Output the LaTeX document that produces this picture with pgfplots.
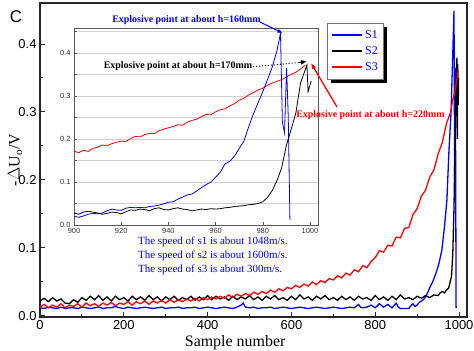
\documentclass[border=0pt]{standalone}
\usepackage{pgfplots}
\pgfplotsset{compat=1.18}
\usepackage{fontspec}
\setmainfont{Liberation Serif}
\setsansfont{Liberation Sans}
\usetikzlibrary{arrows.meta}
\begin{document}
\begin{tikzpicture}
\useasboundingbox (-40bp,-34bp) rectangle (434bp,317bp);
\begin{axis}[
  scale only axis, width=427bp, height=314bp,
  xmin=0, xmax=1019, ymin=-0.0015, ymax=0.4603,
  axis line style={line width=1.2pt, black!85},
  tick align=inside, xtick pos=bottom, ytick pos=left,
  xtick={0,200,...,1000}, minor xtick={100,300,...,900},
  ytick={0,0.1,0.2,0.3,0.4}, minor ytick={0.05,0.15,0.25,0.35},
  major tick length=5bp, minor tick length=3bp,
  every tick/.style={line width=1pt, black!85},
  /pgf/number format/assume math mode=true,
  tick label style={font=\sffamily\fontsize{13}{13}\selectfont},
  yticklabel style={/pgf/number format/fixed, /pgf/number format/precision=1, /pgf/number format/fixed zerofill},
  xticklabel style={/pgf/number format/set thousands separator={}},
  xlabel={Sample number},
  xlabel style={font=\fontsize{16}{16}\selectfont, at={(axis description cs:0.457,-0.083)}, anchor=center},
  ylabel={-$\Delta$U$_{\mathrm{o}}$/V},
  ylabel style={font=\fontsize{16}{16}\selectfont, at={(axis description cs:-0.0585,0.5)}, anchor=center, rotate=0},
]
\addplot[blue, line width=1.3pt] coordinates {
(0,.012)(10,.011)(20,.013)(30,.012)(40,.011)(50,.013)(60,.011)(70,.012)(80,.012)(90,.011)
(100,.013)(110,.012)(120,.011)(130,.012)(140,.013)(150,.011)(160,.012)(170,.012)(180,.014)(190,.012)
(200,.011)(210,.013)(220,.012)(230,.011)(240,.012)(250,.013)(260,.012)(270,.011)(280,.012)(290,.013)
(300,.011)(310,.012)(320,.012)(330,.013)(340,.011)(350,.012)(360,.012)(370,.013)(380,.011)(390,.012)
(400,.013)(410,.012)(420,.011)(430,.012)(440,.013)(450,.012)(460,.011)(470,.013)(480,.016)(485,.019)
(490,.013)(500,.012)(510,.013)(520,.011)(530,.012)(540,.012)(550,.013)(560,.011)(570,.012)(580,.013)
(590,.012)(600,.011)(610,.012)(620,.013)(630,.012)(640,.011)(650,.012)(660,.013)(670,.012)(680,.011)
(690,.012)(700,.013)(710,.012)(720,.011)(730,.012)(740,.013)(750,.012)(760,.017)(765,.013)(770,.012)
(780,.013)(790,.016)(800,.012)(810,.018)(820,.013)(830,.017)(840,.012)(850,.019)(855,.013)(860,.011)
(870,.011)(880,.011)(885,.015)(890,.018)(895,.014)(900,.016)(905,.020)(910,.022)(915,.024)(920,.028)
(925,.034)(931,.043)(937,.050)(945,.063)(952,.077)(959,.097)(965,.130)(971,.170)(976,.244)(981,.300)
(988,.449)(989.5,.200)(991,.365)(991.5,.300)(993,.012)
};
\addplot[black, line width=1.3pt] coordinates {
(0,.022)(10,.026)(20,.021)(30,.027)(40,.022)(50,.025)(60,.019)(70,.018)(80,.024)(90,.020)
(100,.027)(110,.023)(120,.029)(130,.024)(140,.030)(150,.023)(160,.028)(170,.022)(180,.029)(190,.024)
(200,.027)(210,.022)(220,.029)(230,.024)(240,.028)(250,.023)(260,.030)(270,.024)(280,.028)(290,.022)
(300,.028)(310,.024)(320,.029)(330,.023)(340,.027)(350,.024)(360,.029)(370,.023)(380,.028)(390,.024)
(400,.030)(410,.024)(420,.029)(430,.025)(440,.028)(450,.023)(460,.029)(470,.024)(480,.028)(490,.025)
(500,.030)(510,.024)(520,.028)(530,.023)(540,.029)(550,.025)(560,.030)(570,.024)(580,.027)(590,.023)
(600,.029)(610,.024)(620,.031)(630,.025)(640,.028)(650,.023)(660,.029)(670,.025)(680,.030)(690,.024)
(700,.027)(710,.023)(720,.029)(730,.024)(740,.028)(750,.023)(760,.029)(770,.025)(780,.027)(790,.023)
(800,.030)(810,.024)(820,.028)(830,.023)(840,.029)(850,.024)(860,.031)(870,.025)(880,.027)(890,.024)
(900,.029)(910,.026)(920,.030)(930,.027)(940,.031)(950,.030)(955,.034)(960,.036)(965,.034)(970,.038)
(975,.041)(978,.048)(982,.058)(985,.090)(988,.160)(990,.240)(992,.300)(994,.360)(995,.380)(996,.260)
(997,.370)(998,.310)(999,.350)
};
\addplot[red, line width=1.3pt] coordinates {
(0,.013)(10,.017)(20,.012)(30,.016)(40,.013)(50,.018)(60,.012)(70,.016)(80,.014)(90,.018)
(100,.013)(110,.019)(120,.015)(130,.018)(140,.014)(150,.019)(160,.016)(170,.020)(180,.015)(190,.019)
(200,.017)(210,.021)(220,.016)(230,.021)(240,.018)(250,.022)(260,.017)(270,.022)(280,.019)(290,.023)
(300,.019)(310,.024)(320,.020)(330,.024)(340,.021)(350,.025)(360,.022)(370,.026)(380,.022)(390,.027)
(400,.024)(410,.028)(420,.025)(430,.029)(440,.026)(450,.031)(460,.027)(470,.032)(480,.029)(490,.033)
(500,.030)(510,.035)(520,.032)(530,.036)(540,.033)(550,.038)(560,.035)(570,.040)(580,.037)(590,.042)
(600,.040)(610,.045)(620,.042)(630,.047)(640,.044)(650,.050)(660,.046)(670,.052)(680,.049)(690,.055)
(700,.053)(710,.059)(720,.056)(730,.063)(740,.060)(750,.068)(760,.065)(770,.074)(780,.071)(790,.080)
(800,.086)(810,.096)(820,.094)(830,.104)(840,.103)(850,.116)(860,.115)(870,.129)(880,.130)(890,.149)
(900,.158)(910,.176)(920,.185)(930,.204)(940,.215)(950,.238)(960,.255)(970,.283)(980,.300)(985,.318)
(990,.330)(995,.348)(998,.362)
};
\end{axis}
\begin{axis}[
  at={(34bp,92bp)}, anchor=south west,
  scale only axis, width=244bp, height=197bp,
  xmin=900, xmax=1003.4, ymin=0, ymax=0.458,
  axis background/.style={fill=white},
  axis line style={line width=0.8pt, black!65},
  tick align=inside, xtick pos=bottom, ytick pos=left,
  xtick={900,920,...,1000}, ytick={0,0.1,0.2,0.3,0.4},
  minor ytick={0.05,0.15,0.25,0.35,0.45},
  ymajorgrids, yminorgrids,
  major grid style={black!18, line width=0.6pt},
  minor grid style={black!18, line width=0.6pt},
  major tick length=3bp,
  every tick/.style={black!65, line width=0.5pt},
  /pgf/number format/assume math mode=true,
  tick label style={font=\sffamily\fontsize{7.5}{7.5}\selectfont, text=black!80},
  yticklabel style={/pgf/number format/fixed, /pgf/number format/precision=1, /pgf/number format/fixed zerofill},
  xticklabel style={/pgf/number format/set thousands separator={}},
]
\addplot[red, line width=0.8pt] coordinates {
(900,.172)(902,.168)(904,.174)(906,.171)(908,.178)(910,.181)(912,.186)(914,.184)(916,.189)(918,.192)
(920,.195)(922,.194)(924,.201)(926,.206)(928,.205)(930,.210)(932,.213)(934,.212)(936,.219)(938,.223)
(940,.226)(942,.229)(944,.233)(946,.232)(948,.239)(950,.243)(952,.246)(954,.252)(956,.257)(958,.256)
(960,.263)(962,.268)(964,.270)(966,.277)(968,.282)(970,.290)(972,.295)(974,.302)(976,.308)(978,.314)
(980,.318)(982,.325)(984,.330)(986,.334)(988,.338)(990,.344)(992,.350)(994,.355)(996,.363)(998,.372)
};
\addplot[blue, line width=0.8pt] coordinates {
(900,.020)(902,.018)(904,.021)(906,.025)(908,.027)(910,.026)(912,.028)(914,.033)(916,.037)(918,.035)
(920,.034)(922,.039)(924,.041)(926,.040)(928,.041)(930,.040)(932,.043)(934,.044)(936,.046)(938,.049)
(940,.053)(942,.054)(944,.060)(946,.065)(948,.070)(950,.072)(952,.079)(954,.087)(956,.094)(958,.100)
(960,.111)(962,.123)(964,.142)(966,.148)(968,.160)(970,.178)(972,.195)(974,.228)(976,.258)(978,.284)
(980,.310)(982,.338)(984,.367)(986,.405)(987.5,.446)(988.3,.240)(989.2,.215)(990.1,.365)(990.8,.250)(991.5,.012)
};
\addplot[black, line width=0.8pt] coordinates {
(900,.028)(902,.025)(904,.030)(906,.032)(908,.030)(910,.028)(912,.025)(914,.027)(916,.030)(918,.029)
(920,.026)(922,.031)(924,.035)(926,.034)(928,.037)(930,.036)(932,.033)(934,.038)(936,.040)(938,.036)
(940,.035)(942,.038)(944,.040)(946,.037)(948,.036)(950,.033)(952,.035)(954,.037)(956,.036)(958,.038)
(960,.037)(962,.038)(964,.040)(966,.041)(968,.043)(970,.044)(972,.045)(974,.047)(976,.048)(978,.050)
(980,.054)(982,.064)(984,.080)(986,.103)(988,.133)(990,.185)(992,.222)(994,.260)(996,.330)(998.7,.372)
(999.2,.310)(1000.5,.335)
};
\end{axis}
% legend box with shadow
\fill[black] (291bp,234bp) rectangle (347bp,290bp);
\filldraw[fill=white, draw=black!55, line width=0.6pt] (287bp,238bp) rectangle (343bp,294bp);
\draw[blue, line width=1.2pt] (292bp,282bp) -- (322bp,282bp);
\draw[black, line width=1.2pt] (292bp,266bp) -- (322bp,266bp);
\draw[red, line width=1.2pt] (292bp,250bp) -- (322bp,250bp);
\node[anchor=west, inner sep=0pt, text=blue, font=\fontsize{12}{12}\selectfont] at (325bp,282bp) {S1};
\node[anchor=west, inner sep=0pt, text=blue, font=\fontsize{12}{12}\selectfont] at (325bp,266bp) {S2};
\node[anchor=west, inner sep=0pt, text=blue, font=\fontsize{12}{12}\selectfont] at (325bp,250bp) {S3};
% annotations (pixel positions relative to main axis origin)
\node[font=\sffamily\fontsize{17}{17}\selectfont] at (-24bp,300bp) {C};
\node[font=\bfseries\fontsize{10}{10}\selectfont, text=blue] at (146.5bp,296.5bp) {Explosive point at about h=160mm};
\draw[blue, line width=1pt, -{Latex[length=5bp,width=4bp]}] (220bp,295bp) -- (242.5bp,284bp);
\node[font=\bfseries\fontsize{10}{10}\selectfont, text=black] at (138bp,250.5bp) {Explosive point at about h=170mm};
\draw[black, line width=1pt, dotted] (210bp,250bp) -- (260bp,254.5bp);
\draw[black, line width=1pt, -{Latex[length=6bp,width=5bp]}] (259bp,254.5bp) -- (267bp,255.5bp);
\node[font=\bfseries\fontsize{10}{10}\selectfont, text=red] at (330.5bp,202bp) {Explosive point at about h=220mm};
\draw[red, line width=1.3pt, -{Latex[length=6bp,width=5bp]}] (297bp,210bp) -- (271bp,254bp);
\node[anchor=west, font=\fontsize{11}{11}\selectfont, text=blue, inner sep=0pt] at (98bp,75bp) {The speed of s1 is about 1048m/s.};
\node[anchor=west, font=\fontsize{11}{11}\selectfont, text=blue, inner sep=0pt] at (98bp,61bp) {The speed of s2 is about 1600m/s.};
\node[anchor=west, font=\fontsize{11}{11}\selectfont, text=blue, inner sep=0pt] at (98bp,47bp) {The speed of s3 is about 300m/s.};
\end{tikzpicture}
\end{document}
